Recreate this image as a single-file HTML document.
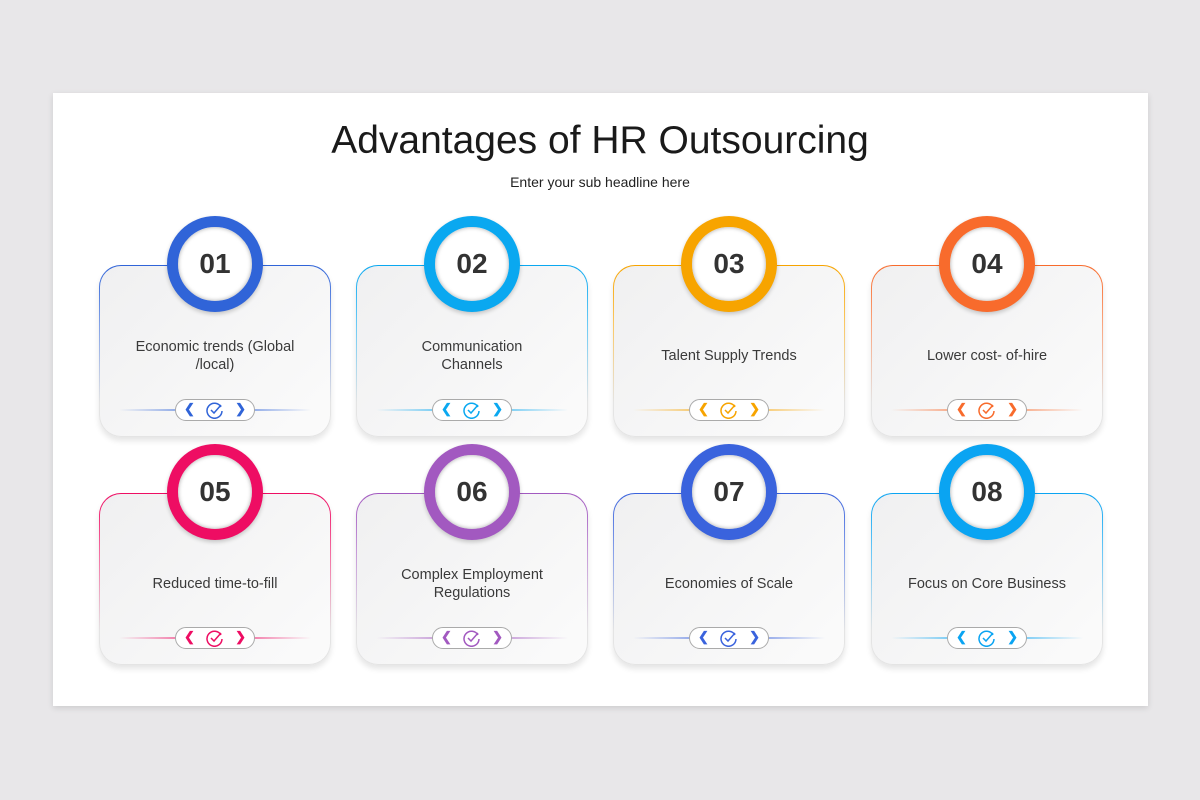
<!DOCTYPE html>
<html><head><meta charset="utf-8"><style>
*{margin:0;padding:0;box-sizing:border-box}
body{width:1200px;height:800px;background:#e8e7e9;position:relative;overflow:hidden;font-family:"Liberation Sans",Arial,sans-serif}
.slide{position:absolute;left:53px;top:93px;width:1095px;height:613px;background:#fff;box-shadow:0 2px 6px rgba(0,0,0,.12)}
h1{position:absolute;left:0;top:119px;width:1200px;text-align:center;font-weight:400;font-size:39px;color:#1a1a1a}
.sub{position:absolute;left:0;top:174px;width:1200px;text-align:center;font-size:14px;color:#222}
.card{position:absolute;width:232px;height:172px;border-radius:22px;border:1.5px solid transparent;box-shadow:0 4px 6px rgba(0,0,0,.1)}
.txt{position:absolute;left:0;width:100%;top:72px;text-align:center;font-size:14.5px;color:#3a3a3a;line-height:18px}
.ring{position:absolute;width:96px;height:96px;border-radius:50%;border:11px solid;background:#fff;font-weight:700;font-size:28px;color:#333;text-align:center;line-height:74px;box-shadow:0 2px 4px rgba(0,0,0,.2),inset 0 0 4px rgba(0,0,0,.35)}
.line{position:absolute;height:2px;width:192px}
.pill{position:absolute;width:80px;height:22px;border-radius:11px;border:1.5px solid #aaa;background:#fff;font-size:13px;font-weight:700}
.pill span{position:absolute;top:1px}
</style></head><body>
<div class="slide"></div>
<h1>Advantages of HR Outsourcing</h1>
<div class="sub">Enter your sub headline here</div>
<div id="c"></div>
<script>
var d=[["01","Economic trends (Global<br>/local)","#3064d8",99,265],["02","Communication<br>Channels","#0aa8f0",356,265],["03","Talent Supply Trends","#f7a400",613,265],["04","Lower cost- of-hire","#f86b2c",871,265],
["05","Reduced time-to-fill","#ee0d63",99,493],["06","Complex Employment<br>Regulations","#a259c0",356,493],["07","Economies of Scale","#3a63dd",613,493],["08","Focus on Core Business","#0aa4f2",871,493]];
var h="";
d.forEach(function(e){var c=e[2],x=e[3],y=e[4];var two=e[1].indexOf("<br>")>0;
h+='<div class="card" style="left:'+x+'px;top:'+y+'px;background:linear-gradient(135deg,#f0f0f1,#fbfbfb) padding-box,linear-gradient(180deg,'+c+' 0%,'+c+'99 35%,#e4e4e4 80%) border-box"><div class="txt" style="top:'+(two?72:81)+'px">'+e[1]+'</div></div>';
h+='<div class="line" style="left:'+(x+20)+'px;top:'+(y+144)+'px;background:linear-gradient(90deg,transparent,'+c+'aa 40%,'+c+'aa 60%,transparent)"></div>';
h+='<div class="pill" style="left:'+(x+76)+'px;top:'+(y+134)+'px;color:'+c+'"><span style="left:8px">&#10094;</span><svg style="position:absolute;left:30px;top:1px" width="18" height="18" viewBox="0 0 18 18"><path d="M15 6A7.5 7.5 0 1 0 16 10" fill="none" stroke="'+c+'" stroke-width="1.5"/><path d="M5 9l3 3 7-8" fill="none" stroke="'+c+'" stroke-width="1.5"/></svg><span style="right:8px">&#10095;</span></div>';
h+='<div class="ring" style="left:'+(x+68)+'px;top:'+(y-49)+'px;border-color:'+c+'">'+e[0]+'</div>';});
document.getElementById("c").innerHTML=h;
</script>
</body></html>
